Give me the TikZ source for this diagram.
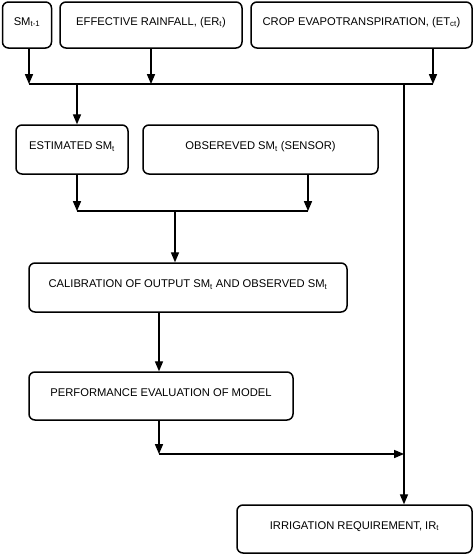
\documentclass[tikz,border=0pt]{standalone}
\usepackage{fontspec}
\setmainfont{Liberation Sans}
\usetikzlibrary{arrows,positioning}

\begin{document}
\begin{tikzpicture}[x=1pt,y=-1pt]
    \tikzset{>=triangle 45}
    \tikzset{box/.style={draw,line width=1.5pt,rounded corners=6pt,inner sep=0pt,
      font=\fontsize{11.2}{13}\selectfont,text height=8pt,text depth=8pt}}
  \useasboundingbox (0,0) rectangle (474,555);
  %\draw[step=10,gray,very thin] (0,0) grid (474,555);

\node[box,minimum width=49,minimum height=46] (SM) at (27,25) {SM\textsubscript{t-1}};
\node[box,minimum width=182,minimum height=46] (ER) at (151,25) {EFFECTIVE RAINFALL, (ER\textsubscript{t})};
\node[box,minimum width=221,minimum height=46] (ET) at (361.5,25) {CROP EVAPOTRANSPIRATION, (ET\textsubscript{ct})};

\node[box,minimum width=112,minimum height=49] (EST) at (72,149.5) {ESTIMATED SM\textsubscript{t}};
\node[box,minimum width=235,minimum height=49] (OBS) at (260.5,149.5) {OBSEREVED SM\textsubscript{t} (SENSOR)};

\node[box,minimum width=318,minimum height=49] (CAL) at (188,287.5) {CALIBRATION OF OUTPUT SM\textsubscript{t} AND OBSERVED SM\textsubscript{t}};
\node[box,minimum width=264,minimum height=48] (PERF) at (161,396) {PERFORMANCE EVALUATION OF MODEL};
\node[box,minimum width=235,minimum height=48] (IR) at (354.5,529) {IRRIGATION REQUIREMENT, IR\textsubscript{t}};

\coordinate (b1L) at (29,84);
\coordinate (b1E) at (77,84);
\coordinate (b1I) at (404,84);
\coordinate (b1R) at (433,84);
\coordinate (b2L) at (77,211);
\coordinate (b2C) at (175,211);
\coordinate (b2R) at (308,211);
\coordinate (b3L) at (159,454);
\coordinate (b3R) at (404,454);

\draw [->,line width=1.3pt] (SM.south -| b1L) -- (b1L);
\draw [->,line width=1.3pt] (ER.south) -- (ER.south |- b1L);
\draw [->,line width=1.3pt] (ET.south -| b1R) -- (b1R);
\draw [line width=1.3pt] (b1L) -- (b1R);

\draw [->,line width=1.3pt] (b1E) -- (EST.north -| b1E);
\draw [->,line width=1.3pt] (b1I) -- (IR.north -| b1I);

\draw [->,line width=1.3pt] (EST.south -| b2L) -- (b2L);
\draw [->,line width=1.3pt] (OBS.south -| b2R) -- (b2R);
\draw [line width=1.3pt] (b2L) -- (b2R);
\draw [->,line width=1.3pt] (b2C) -- (CAL.north -| b2C);

\draw [->,line width=1.3pt] (CAL.south -| b3L) -- (PERF.north -| b3L);
\draw [->,line width=1.3pt] (PERF.south -| b3L) -- (b3L);
\draw [->,line width=1.3pt] (b3L) -- (b3R);

\end{tikzpicture}
\end{document}
